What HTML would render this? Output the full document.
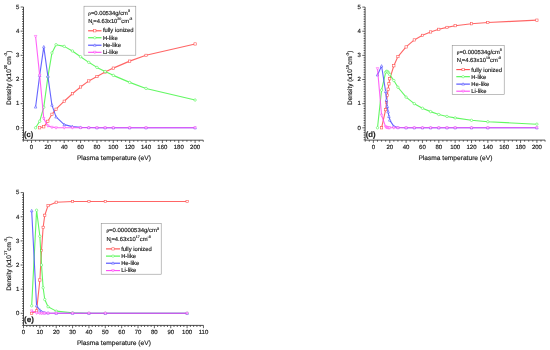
<!DOCTYPE html>
<html><head><meta charset="utf-8"><title>Density vs plasma temperature</title>
<style>
html,body{margin:0;padding:0;background:#fff;}
body{width:550px;height:350px;overflow:hidden;}
text{stroke:#1a1a1a;stroke-width:.16px;paint-order:stroke fill}
svg{display:block;filter:blur(0.3px);text-rendering:geometricPrecision;font-family:'Liberation Sans', Arial, sans-serif;fill:#1a1a1a;}
</style></head><body>
<svg width="550" height="350" viewBox="0 0 550 350">
<rect width="550" height="350" fill="#fff"/>
<path d="M23.50 7.00V140.20H203.28" fill="none" stroke="#222" stroke-width="0.8"/>
<path d="M23.50 139.88h-1.5M23.50 137.46h-1.5M23.50 135.05h-1.5M23.50 132.63h-1.5M23.50 130.22h-1.5M23.50 127.80h-2.8M23.50 125.38h-1.5M23.50 122.97h-1.5M23.50 120.55h-1.5M23.50 118.14h-1.5M23.50 115.72h-1.5M23.50 113.30h-1.5M23.50 110.89h-1.5M23.50 108.47h-1.5M23.50 106.06h-1.5M23.50 103.64h-2.8M23.50 101.22h-1.5M23.50 98.81h-1.5M23.50 96.39h-1.5M23.50 93.98h-1.5M23.50 91.56h-1.5M23.50 89.14h-1.5M23.50 86.73h-1.5M23.50 84.31h-1.5M23.50 81.90h-1.5M23.50 79.48h-2.8M23.50 77.06h-1.5M23.50 74.65h-1.5M23.50 72.23h-1.5M23.50 69.82h-1.5M23.50 67.40h-1.5M23.50 64.98h-1.5M23.50 62.57h-1.5M23.50 60.15h-1.5M23.50 57.74h-1.5M23.50 55.32h-2.8M23.50 52.90h-1.5M23.50 50.49h-1.5M23.50 48.07h-1.5M23.50 45.66h-1.5M23.50 43.24h-1.5M23.50 40.82h-1.5M23.50 38.41h-1.5M23.50 35.99h-1.5M23.50 33.58h-1.5M23.50 31.16h-2.8M23.50 28.74h-1.5M23.50 26.33h-1.5M23.50 23.91h-1.5M23.50 21.50h-1.5M23.50 19.08h-1.5M23.50 16.66h-1.5M23.50 14.25h-1.5M23.50 11.83h-1.5M23.50 9.42h-1.5M23.50 7.00h-2.8" stroke="#222" stroke-width="0.7" fill="none"/>
<path d="M23.32 140.20v1.6M27.41 140.20v1.6M31.50 140.20v2.8M35.59 140.20v1.6M39.68 140.20v1.6M43.77 140.20v1.6M47.86 140.20v2.8M51.95 140.20v1.6M56.04 140.20v1.6M60.13 140.20v1.6M64.22 140.20v2.8M68.31 140.20v1.6M72.40 140.20v1.6M76.49 140.20v1.6M80.58 140.20v2.8M84.67 140.20v1.6M88.76 140.20v1.6M92.85 140.20v1.6M96.94 140.20v2.8M101.03 140.20v1.6M105.12 140.20v1.6M109.21 140.20v1.6M113.30 140.20v2.8M117.39 140.20v1.6M121.48 140.20v1.6M125.57 140.20v1.6M129.66 140.20v2.8M133.75 140.20v1.6M137.84 140.20v1.6M141.93 140.20v1.6M146.02 140.20v2.8M150.11 140.20v1.6M154.20 140.20v1.6M158.29 140.20v1.6M162.38 140.20v2.8M166.47 140.20v1.6M170.56 140.20v1.6M174.65 140.20v1.6M178.74 140.20v2.8M182.83 140.20v1.6M186.92 140.20v1.6M191.01 140.20v1.6M195.10 140.20v2.8M199.19 140.20v1.6M203.28 140.20v1.6" stroke="#222" stroke-width="0.7" fill="none"/>
<text x="19.35" y="129.60" text-anchor="end" font-size="6.0">0</text>
<text x="19.35" y="105.44" text-anchor="end" font-size="6.0">1</text>
<text x="19.35" y="81.28" text-anchor="end" font-size="6.0">2</text>
<text x="19.35" y="57.12" text-anchor="end" font-size="6.0">3</text>
<text x="19.35" y="32.96" text-anchor="end" font-size="6.0">4</text>
<text x="19.35" y="8.80" text-anchor="end" font-size="6.0">5</text>
<text x="31.50" y="149.10" text-anchor="middle" font-size="6.0">0</text>
<text x="47.86" y="149.10" text-anchor="middle" font-size="6.0">20</text>
<text x="64.22" y="149.10" text-anchor="middle" font-size="6.0">40</text>
<text x="80.58" y="149.10" text-anchor="middle" font-size="6.0">60</text>
<text x="96.94" y="149.10" text-anchor="middle" font-size="6.0">80</text>
<text x="113.30" y="149.10" text-anchor="middle" font-size="6.0">100</text>
<text x="129.66" y="149.10" text-anchor="middle" font-size="6.0">120</text>
<text x="146.02" y="149.10" text-anchor="middle" font-size="6.0">140</text>
<text x="162.38" y="149.10" text-anchor="middle" font-size="6.0">160</text>
<text x="178.74" y="149.10" text-anchor="middle" font-size="6.0">180</text>
<text x="195.10" y="149.10" text-anchor="middle" font-size="6.0">200</text>
<text x="76.90" y="160.00" font-size="6.5" textLength="74.0" lengthAdjust="spacingAndGlyphs">Plasma temperature (eV)</text>
<text transform="translate(10.70 105.00) rotate(-90)" font-size="6.5" textLength="54.4" lengthAdjust="spacingAndGlyphs">Density (x10<tspan dy="-3.3" font-size="4">20</tspan><tspan dy="3.3">cm</tspan><tspan dy="-3.3" font-size="4">-3</tspan><tspan dy="3.3">)</tspan></text>
<text x="24.10" y="137.40" font-size="7.9" font-weight="bold" fill="#222" textLength="9.3" lengthAdjust="spacingAndGlyphs">(c)</text>
<path d="M39.68 127.80L43.77 126.83L47.86 121.28L51.95 114.27L56.04 109.20L64.22 101.22L72.40 93.73L80.58 86.97L88.76 80.93L96.94 76.58L105.12 71.99L113.30 68.12L129.66 61.12L146.02 55.32L195.10 43.96" fill="none" stroke="#ff4a4a" stroke-width="1.1" stroke-opacity="0.85" stroke-linejoin="round"/>
<rect x="38.53" y="126.65" width="2.30" height="2.30" fill="#fff" stroke="#ff4a4a" stroke-width="0.55"/>
<rect x="42.62" y="125.68" width="2.30" height="2.30" fill="#fff" stroke="#ff4a4a" stroke-width="0.55"/>
<rect x="46.71" y="120.13" width="2.30" height="2.30" fill="#fff" stroke="#ff4a4a" stroke-width="0.55"/>
<rect x="50.80" y="113.12" width="2.30" height="2.30" fill="#fff" stroke="#ff4a4a" stroke-width="0.55"/>
<rect x="54.89" y="108.05" width="2.30" height="2.30" fill="#fff" stroke="#ff4a4a" stroke-width="0.55"/>
<rect x="63.07" y="100.07" width="2.30" height="2.30" fill="#fff" stroke="#ff4a4a" stroke-width="0.55"/>
<rect x="71.25" y="92.58" width="2.30" height="2.30" fill="#fff" stroke="#ff4a4a" stroke-width="0.55"/>
<rect x="79.43" y="85.82" width="2.30" height="2.30" fill="#fff" stroke="#ff4a4a" stroke-width="0.55"/>
<rect x="87.61" y="79.78" width="2.30" height="2.30" fill="#fff" stroke="#ff4a4a" stroke-width="0.55"/>
<rect x="95.79" y="75.43" width="2.30" height="2.30" fill="#fff" stroke="#ff4a4a" stroke-width="0.55"/>
<rect x="103.97" y="70.84" width="2.30" height="2.30" fill="#fff" stroke="#ff4a4a" stroke-width="0.55"/>
<rect x="112.15" y="66.97" width="2.30" height="2.30" fill="#fff" stroke="#ff4a4a" stroke-width="0.55"/>
<rect x="128.51" y="59.97" width="2.30" height="2.30" fill="#fff" stroke="#ff4a4a" stroke-width="0.55"/>
<rect x="144.87" y="54.17" width="2.30" height="2.30" fill="#fff" stroke="#ff4a4a" stroke-width="0.55"/>
<rect x="193.95" y="42.81" width="2.30" height="2.30" fill="#fff" stroke="#ff4a4a" stroke-width="0.55"/>
<path d="M35.59 127.80L39.68 121.28L43.77 107.26L47.86 77.06L51.95 52.90L56.04 44.69L64.22 46.38L72.40 50.97L80.58 56.77L88.76 62.33L96.94 67.40L105.12 71.51L113.30 75.37L129.66 82.38L146.02 88.42L195.10 100.02" fill="none" stroke="#46f646" stroke-width="1.1" stroke-opacity="0.85" stroke-linejoin="round"/>
<circle cx="35.59" cy="127.80" r="1.21" fill="#fff" stroke="#46f646" stroke-width="0.55"/>
<circle cx="39.68" cy="121.28" r="1.21" fill="#fff" stroke="#46f646" stroke-width="0.55"/>
<circle cx="43.77" cy="107.26" r="1.21" fill="#fff" stroke="#46f646" stroke-width="0.55"/>
<circle cx="47.86" cy="77.06" r="1.21" fill="#fff" stroke="#46f646" stroke-width="0.55"/>
<circle cx="51.95" cy="52.90" r="1.21" fill="#fff" stroke="#46f646" stroke-width="0.55"/>
<circle cx="56.04" cy="44.69" r="1.21" fill="#fff" stroke="#46f646" stroke-width="0.55"/>
<circle cx="64.22" cy="46.38" r="1.21" fill="#fff" stroke="#46f646" stroke-width="0.55"/>
<circle cx="72.40" cy="50.97" r="1.21" fill="#fff" stroke="#46f646" stroke-width="0.55"/>
<circle cx="80.58" cy="56.77" r="1.21" fill="#fff" stroke="#46f646" stroke-width="0.55"/>
<circle cx="88.76" cy="62.33" r="1.21" fill="#fff" stroke="#46f646" stroke-width="0.55"/>
<circle cx="96.94" cy="67.40" r="1.21" fill="#fff" stroke="#46f646" stroke-width="0.55"/>
<circle cx="105.12" cy="71.51" r="1.21" fill="#fff" stroke="#46f646" stroke-width="0.55"/>
<circle cx="113.30" cy="75.37" r="1.21" fill="#fff" stroke="#46f646" stroke-width="0.55"/>
<circle cx="129.66" cy="82.38" r="1.21" fill="#fff" stroke="#46f646" stroke-width="0.55"/>
<circle cx="146.02" cy="88.42" r="1.21" fill="#fff" stroke="#46f646" stroke-width="0.55"/>
<circle cx="195.10" cy="100.02" r="1.21" fill="#fff" stroke="#46f646" stroke-width="0.55"/>
<path d="M35.59 107.02L39.68 75.37L43.77 46.86L47.86 76.10L51.95 105.09L56.04 116.93L64.22 124.66L72.40 126.59L80.58 127.32L88.76 127.56L96.94 127.80L105.12 127.80L113.30 127.80L129.66 127.80L146.02 127.80L195.10 127.80" fill="none" stroke="#4a4aff" stroke-width="1.1" stroke-opacity="0.85" stroke-linejoin="round"/>
<path d="M34.33 108.06L36.86 108.06L35.59 105.64Z" fill="#fff" stroke="#4a4aff" stroke-width="0.55"/>
<path d="M38.41 76.41L40.95 76.41L39.68 73.99Z" fill="#fff" stroke="#4a4aff" stroke-width="0.55"/>
<path d="M42.50 47.90L45.03 47.90L43.77 45.48Z" fill="#fff" stroke="#4a4aff" stroke-width="0.55"/>
<path d="M46.59 77.13L49.12 77.13L47.86 74.72Z" fill="#fff" stroke="#4a4aff" stroke-width="0.55"/>
<path d="M50.69 106.12L53.22 106.12L51.95 103.71Z" fill="#fff" stroke="#4a4aff" stroke-width="0.55"/>
<path d="M54.77 117.96L57.30 117.96L56.04 115.55Z" fill="#fff" stroke="#4a4aff" stroke-width="0.55"/>
<path d="M62.95 125.69L65.48 125.69L64.22 123.28Z" fill="#fff" stroke="#4a4aff" stroke-width="0.55"/>
<path d="M71.14 127.63L73.67 127.63L72.40 125.21Z" fill="#fff" stroke="#4a4aff" stroke-width="0.55"/>
<path d="M79.31 128.35L81.84 128.35L80.58 125.94Z" fill="#fff" stroke="#4a4aff" stroke-width="0.55"/>
<path d="M87.49 128.59L90.02 128.59L88.76 126.18Z" fill="#fff" stroke="#4a4aff" stroke-width="0.55"/>
<path d="M95.67 128.84L98.20 128.84L96.94 126.42Z" fill="#fff" stroke="#4a4aff" stroke-width="0.55"/>
<path d="M103.85 128.84L106.38 128.84L105.12 126.42Z" fill="#fff" stroke="#4a4aff" stroke-width="0.55"/>
<path d="M112.03 128.84L114.56 128.84L113.30 126.42Z" fill="#fff" stroke="#4a4aff" stroke-width="0.55"/>
<path d="M128.40 128.84L130.92 128.84L129.66 126.42Z" fill="#fff" stroke="#4a4aff" stroke-width="0.55"/>
<path d="M144.75 128.84L147.28 128.84L146.02 126.42Z" fill="#fff" stroke="#4a4aff" stroke-width="0.55"/>
<path d="M193.84 128.84L196.36 128.84L195.10 126.42Z" fill="#fff" stroke="#4a4aff" stroke-width="0.55"/>
<path d="M35.59 36.48L39.68 75.37L43.77 118.62L47.86 125.87L51.95 127.32L56.04 127.80L64.22 127.80L72.40 127.80L80.58 127.80L88.76 127.80L96.94 127.80L105.12 127.80L113.30 127.80L129.66 127.80L146.02 127.80L195.10 127.80" fill="none" stroke="#ff48f6" stroke-width="1.1" stroke-opacity="0.85" stroke-linejoin="round"/>
<path d="M34.33 35.44L36.86 35.44L35.59 37.86Z" fill="#fff" stroke="#ff48f6" stroke-width="0.55"/>
<path d="M38.41 74.34L40.95 74.34L39.68 76.75Z" fill="#fff" stroke="#ff48f6" stroke-width="0.55"/>
<path d="M42.50 117.58L45.03 117.58L43.77 120.00Z" fill="#fff" stroke="#ff48f6" stroke-width="0.55"/>
<path d="M46.59 124.83L49.12 124.83L47.86 127.25Z" fill="#fff" stroke="#ff48f6" stroke-width="0.55"/>
<path d="M50.69 126.28L53.22 126.28L51.95 128.70Z" fill="#fff" stroke="#ff48f6" stroke-width="0.55"/>
<path d="M54.77 126.77L57.30 126.77L56.04 129.18Z" fill="#fff" stroke="#ff48f6" stroke-width="0.55"/>
<path d="M62.95 126.77L65.48 126.77L64.22 129.18Z" fill="#fff" stroke="#ff48f6" stroke-width="0.55"/>
<path d="M71.14 126.77L73.67 126.77L72.40 129.18Z" fill="#fff" stroke="#ff48f6" stroke-width="0.55"/>
<path d="M79.31 126.77L81.84 126.77L80.58 129.18Z" fill="#fff" stroke="#ff48f6" stroke-width="0.55"/>
<path d="M87.49 126.77L90.02 126.77L88.76 129.18Z" fill="#fff" stroke="#ff48f6" stroke-width="0.55"/>
<path d="M95.67 126.77L98.20 126.77L96.94 129.18Z" fill="#fff" stroke="#ff48f6" stroke-width="0.55"/>
<path d="M103.85 126.77L106.38 126.77L105.12 129.18Z" fill="#fff" stroke="#ff48f6" stroke-width="0.55"/>
<path d="M112.03 126.77L114.56 126.77L113.30 129.18Z" fill="#fff" stroke="#ff48f6" stroke-width="0.55"/>
<path d="M128.40 126.77L130.92 126.77L129.66 129.18Z" fill="#fff" stroke="#ff48f6" stroke-width="0.55"/>
<path d="M144.75 126.77L147.28 126.77L146.02 129.18Z" fill="#fff" stroke="#ff48f6" stroke-width="0.55"/>
<path d="M193.84 126.77L196.36 126.77L195.10 129.18Z" fill="#fff" stroke="#ff48f6" stroke-width="0.55"/>
<rect x="84" y="6.2" width="51.80" height="49.00" fill="#fff" stroke="#8a8a8a" stroke-width="0.55"/>
<text x="88.3" y="15.20" font-size="5.8" textLength="41.6" lengthAdjust="spacingAndGlyphs"><tspan font-size="4.6">ρ</tspan>=0.00534g/cm<tspan dy="-2.9" font-size="3.6">3</tspan></text>
<text x="88.3" y="23.10" font-size="5.8" textLength="44.0" lengthAdjust="spacingAndGlyphs">N<tspan dy="1.6" font-size="3.6">i</tspan><tspan dy="-1.6">=4.63x10</tspan><tspan dy="-2.9" font-size="3.6">20</tspan><tspan dy="2.9">cm</tspan><tspan dy="-2.9" font-size="3.6">-3</tspan></text>
<path d="M88.1 30.80H101.5" stroke="#ff4a4a" stroke-width="1.1"/>
<rect x="93.65" y="29.65" width="2.30" height="2.30" fill="#fff" stroke="#ff4a4a" stroke-width="0.5"/>
<text x="102.9" y="32.35" font-size="5.8" textLength="30.6" lengthAdjust="spacingAndGlyphs">fully ionized</text>
<path d="M88.1 37.75H101.5" stroke="#46f646" stroke-width="1.1"/>
<circle cx="94.80" cy="37.75" r="1.21" fill="#fff" stroke="#46f646" stroke-width="0.5"/>
<text x="102.9" y="39.50" font-size="5.8">H-like</text>
<path d="M88.1 45.20H101.5" stroke="#4a4aff" stroke-width="1.1"/>
<path d="M93.53 46.23L96.06 46.23L94.80 43.82Z" fill="#fff" stroke="#4a4aff" stroke-width="0.5"/>
<text x="102.9" y="46.90" font-size="5.8">He-like</text>
<path d="M88.1 52.30H101.5" stroke="#ff48f6" stroke-width="1.1"/>
<path d="M93.53 51.27L96.06 51.27L94.80 53.68Z" fill="#fff" stroke="#ff48f6" stroke-width="0.5"/>
<text x="102.9" y="54.00" font-size="5.8">Li-like</text>
<path d="M365.10 7.10V140.10H545.08" fill="none" stroke="#222" stroke-width="0.8"/>
<path d="M365.10 139.87h-1.5M365.10 137.46h-1.5M365.10 135.04h-1.5M365.10 132.63h-1.5M365.10 130.21h-1.5M365.10 127.80h-2.8M365.10 125.39h-1.5M365.10 122.97h-1.5M365.10 120.56h-1.5M365.10 118.14h-1.5M365.10 115.73h-1.5M365.10 113.32h-1.5M365.10 110.90h-1.5M365.10 108.49h-1.5M365.10 106.07h-1.5M365.10 103.66h-2.8M365.10 101.25h-1.5M365.10 98.83h-1.5M365.10 96.42h-1.5M365.10 94.00h-1.5M365.10 91.59h-1.5M365.10 89.18h-1.5M365.10 86.76h-1.5M365.10 84.35h-1.5M365.10 81.93h-1.5M365.10 79.52h-2.8M365.10 77.11h-1.5M365.10 74.69h-1.5M365.10 72.28h-1.5M365.10 69.86h-1.5M365.10 67.45h-1.5M365.10 65.04h-1.5M365.10 62.62h-1.5M365.10 60.21h-1.5M365.10 57.79h-1.5M365.10 55.38h-2.8M365.10 52.97h-1.5M365.10 50.55h-1.5M365.10 48.14h-1.5M365.10 45.72h-1.5M365.10 43.31h-1.5M365.10 40.90h-1.5M365.10 38.48h-1.5M365.10 36.07h-1.5M365.10 33.65h-1.5M365.10 31.24h-2.8M365.10 28.83h-1.5M365.10 26.41h-1.5M365.10 24.00h-1.5M365.10 21.58h-1.5M365.10 19.17h-1.5M365.10 16.76h-1.5M365.10 14.34h-1.5M365.10 11.93h-1.5M365.10 9.51h-1.5M365.10 7.10h-2.8" stroke="#222" stroke-width="0.7" fill="none"/>
<path d="M365.22 140.10v1.6M369.31 140.10v1.6M373.40 140.10v2.8M377.49 140.10v1.6M381.57 140.10v1.6M385.66 140.10v1.6M389.75 140.10v2.8M393.84 140.10v1.6M397.92 140.10v1.6M402.01 140.10v1.6M406.10 140.10v2.8M410.19 140.10v1.6M414.27 140.10v1.6M418.36 140.10v1.6M422.45 140.10v2.8M426.54 140.10v1.6M430.62 140.10v1.6M434.71 140.10v1.6M438.80 140.10v2.8M442.89 140.10v1.6M446.97 140.10v1.6M451.06 140.10v1.6M455.15 140.10v2.8M459.24 140.10v1.6M463.32 140.10v1.6M467.41 140.10v1.6M471.50 140.10v2.8M475.59 140.10v1.6M479.67 140.10v1.6M483.76 140.10v1.6M487.85 140.10v2.8M491.94 140.10v1.6M496.02 140.10v1.6M500.11 140.10v1.6M504.20 140.10v2.8M508.29 140.10v1.6M512.38 140.10v1.6M516.46 140.10v1.6M520.55 140.10v2.8M524.64 140.10v1.6M528.72 140.10v1.6M532.81 140.10v1.6M536.90 140.10v2.8M540.99 140.10v1.6M545.08 140.10v1.6" stroke="#222" stroke-width="0.7" fill="none"/>
<text x="360.95" y="129.60" text-anchor="end" font-size="6.0">0</text>
<text x="360.95" y="105.46" text-anchor="end" font-size="6.0">1</text>
<text x="360.95" y="81.32" text-anchor="end" font-size="6.0">2</text>
<text x="360.95" y="57.18" text-anchor="end" font-size="6.0">3</text>
<text x="360.95" y="33.04" text-anchor="end" font-size="6.0">4</text>
<text x="360.95" y="8.90" text-anchor="end" font-size="6.0">5</text>
<text x="373.40" y="149.00" text-anchor="middle" font-size="6.0">0</text>
<text x="389.75" y="149.00" text-anchor="middle" font-size="6.0">20</text>
<text x="406.10" y="149.00" text-anchor="middle" font-size="6.0">40</text>
<text x="422.45" y="149.00" text-anchor="middle" font-size="6.0">60</text>
<text x="438.80" y="149.00" text-anchor="middle" font-size="6.0">80</text>
<text x="455.15" y="149.00" text-anchor="middle" font-size="6.0">100</text>
<text x="471.50" y="149.00" text-anchor="middle" font-size="6.0">120</text>
<text x="487.85" y="149.00" text-anchor="middle" font-size="6.0">140</text>
<text x="504.20" y="149.00" text-anchor="middle" font-size="6.0">160</text>
<text x="520.55" y="149.00" text-anchor="middle" font-size="6.0">180</text>
<text x="536.90" y="149.00" text-anchor="middle" font-size="6.0">200</text>
<text x="418.40" y="160.00" font-size="6.5" textLength="74.0" lengthAdjust="spacingAndGlyphs">Plasma temperature (eV)</text>
<text transform="translate(352.20 105.00) rotate(-90)" font-size="6.5" textLength="54.4" lengthAdjust="spacingAndGlyphs">Density (x10<tspan dy="-3.3" font-size="4">19</tspan><tspan dy="3.3">cm</tspan><tspan dy="-3.3" font-size="4">-3</tspan><tspan dy="3.3">)</tspan></text>
<text x="365.70" y="137.30" font-size="7.9" font-weight="bold" fill="#222" textLength="9.9" lengthAdjust="spacingAndGlyphs">(d)</text>
<path d="M381.57 127.80L385.66 109.69L386.48 102.45L387.30 95.21L388.11 89.18L388.93 83.87L389.75 78.80L393.84 65.76L397.92 56.59L406.10 46.93L414.27 39.93L422.45 35.34L430.62 31.96L438.80 29.31L446.97 27.38L455.15 25.69L471.50 23.76L487.85 22.55L536.90 20.14" fill="none" stroke="#ff4a4a" stroke-width="1.1" stroke-opacity="0.85" stroke-linejoin="round"/>
<rect x="380.43" y="126.65" width="2.30" height="2.30" fill="#fff" stroke="#ff4a4a" stroke-width="0.55"/>
<rect x="384.51" y="108.54" width="2.30" height="2.30" fill="#fff" stroke="#ff4a4a" stroke-width="0.55"/>
<rect x="385.33" y="101.30" width="2.30" height="2.30" fill="#fff" stroke="#ff4a4a" stroke-width="0.55"/>
<rect x="386.15" y="94.06" width="2.30" height="2.30" fill="#fff" stroke="#ff4a4a" stroke-width="0.55"/>
<rect x="386.96" y="88.03" width="2.30" height="2.30" fill="#fff" stroke="#ff4a4a" stroke-width="0.55"/>
<rect x="387.78" y="82.72" width="2.30" height="2.30" fill="#fff" stroke="#ff4a4a" stroke-width="0.55"/>
<rect x="388.60" y="77.65" width="2.30" height="2.30" fill="#fff" stroke="#ff4a4a" stroke-width="0.55"/>
<rect x="392.69" y="64.61" width="2.30" height="2.30" fill="#fff" stroke="#ff4a4a" stroke-width="0.55"/>
<rect x="396.77" y="55.44" width="2.30" height="2.30" fill="#fff" stroke="#ff4a4a" stroke-width="0.55"/>
<rect x="404.95" y="45.78" width="2.30" height="2.30" fill="#fff" stroke="#ff4a4a" stroke-width="0.55"/>
<rect x="413.12" y="38.78" width="2.30" height="2.30" fill="#fff" stroke="#ff4a4a" stroke-width="0.55"/>
<rect x="421.30" y="34.19" width="2.30" height="2.30" fill="#fff" stroke="#ff4a4a" stroke-width="0.55"/>
<rect x="429.48" y="30.81" width="2.30" height="2.30" fill="#fff" stroke="#ff4a4a" stroke-width="0.55"/>
<rect x="437.65" y="28.16" width="2.30" height="2.30" fill="#fff" stroke="#ff4a4a" stroke-width="0.55"/>
<rect x="445.82" y="26.23" width="2.30" height="2.30" fill="#fff" stroke="#ff4a4a" stroke-width="0.55"/>
<rect x="454.00" y="24.54" width="2.30" height="2.30" fill="#fff" stroke="#ff4a4a" stroke-width="0.55"/>
<rect x="470.35" y="22.61" width="2.30" height="2.30" fill="#fff" stroke="#ff4a4a" stroke-width="0.55"/>
<rect x="486.70" y="21.40" width="2.30" height="2.30" fill="#fff" stroke="#ff4a4a" stroke-width="0.55"/>
<rect x="535.75" y="18.99" width="2.30" height="2.30" fill="#fff" stroke="#ff4a4a" stroke-width="0.55"/>
<path d="M377.49 127.80L381.57 90.14L385.66 72.28L386.48 71.31L387.30 71.55L388.11 72.28L388.93 73.24L389.75 74.69L393.84 80.49L397.92 87.24L406.10 97.14L414.27 103.66L422.45 108.25L430.62 111.63L438.80 114.52L446.97 116.45L455.15 117.90L471.50 120.32L487.85 121.77L536.90 124.18" fill="none" stroke="#46f646" stroke-width="1.1" stroke-opacity="0.85" stroke-linejoin="round"/>
<circle cx="377.49" cy="127.80" r="1.21" fill="#fff" stroke="#46f646" stroke-width="0.55"/>
<circle cx="381.57" cy="90.14" r="1.21" fill="#fff" stroke="#46f646" stroke-width="0.55"/>
<circle cx="385.66" cy="72.28" r="1.21" fill="#fff" stroke="#46f646" stroke-width="0.55"/>
<circle cx="386.48" cy="71.31" r="1.21" fill="#fff" stroke="#46f646" stroke-width="0.55"/>
<circle cx="387.30" cy="71.55" r="1.21" fill="#fff" stroke="#46f646" stroke-width="0.55"/>
<circle cx="388.11" cy="72.28" r="1.21" fill="#fff" stroke="#46f646" stroke-width="0.55"/>
<circle cx="388.93" cy="73.24" r="1.21" fill="#fff" stroke="#46f646" stroke-width="0.55"/>
<circle cx="389.75" cy="74.69" r="1.21" fill="#fff" stroke="#46f646" stroke-width="0.55"/>
<circle cx="393.84" cy="80.49" r="1.21" fill="#fff" stroke="#46f646" stroke-width="0.55"/>
<circle cx="397.92" cy="87.24" r="1.21" fill="#fff" stroke="#46f646" stroke-width="0.55"/>
<circle cx="406.10" cy="97.14" r="1.21" fill="#fff" stroke="#46f646" stroke-width="0.55"/>
<circle cx="414.27" cy="103.66" r="1.21" fill="#fff" stroke="#46f646" stroke-width="0.55"/>
<circle cx="422.45" cy="108.25" r="1.21" fill="#fff" stroke="#46f646" stroke-width="0.55"/>
<circle cx="430.62" cy="111.63" r="1.21" fill="#fff" stroke="#46f646" stroke-width="0.55"/>
<circle cx="438.80" cy="114.52" r="1.21" fill="#fff" stroke="#46f646" stroke-width="0.55"/>
<circle cx="446.97" cy="116.45" r="1.21" fill="#fff" stroke="#46f646" stroke-width="0.55"/>
<circle cx="455.15" cy="117.90" r="1.21" fill="#fff" stroke="#46f646" stroke-width="0.55"/>
<circle cx="471.50" cy="120.32" r="1.21" fill="#fff" stroke="#46f646" stroke-width="0.55"/>
<circle cx="487.85" cy="121.77" r="1.21" fill="#fff" stroke="#46f646" stroke-width="0.55"/>
<circle cx="536.90" cy="124.18" r="1.21" fill="#fff" stroke="#46f646" stroke-width="0.55"/>
<path d="M377.49 74.93L381.57 66.00L385.66 91.59L386.48 100.04L387.30 106.56L388.11 111.87L388.93 116.45L389.75 120.08L393.84 126.35L397.92 127.56L406.10 127.80L414.27 127.80L422.45 127.80L430.62 127.80L438.80 127.80L446.97 127.80L455.15 127.80L471.50 127.80L487.85 127.80L536.90 127.80" fill="none" stroke="#4a4aff" stroke-width="1.1" stroke-opacity="0.85" stroke-linejoin="round"/>
<path d="M376.22 75.97L378.75 75.97L377.49 73.55Z" fill="#fff" stroke="#4a4aff" stroke-width="0.55"/>
<path d="M380.31 67.04L382.84 67.04L381.57 64.62Z" fill="#fff" stroke="#4a4aff" stroke-width="0.55"/>
<path d="M384.40 92.62L386.93 92.62L385.66 90.21Z" fill="#fff" stroke="#4a4aff" stroke-width="0.55"/>
<path d="M385.21 101.07L387.74 101.07L386.48 98.66Z" fill="#fff" stroke="#4a4aff" stroke-width="0.55"/>
<path d="M386.03 107.59L388.56 107.59L387.30 105.18Z" fill="#fff" stroke="#4a4aff" stroke-width="0.55"/>
<path d="M386.85 112.90L389.38 112.90L388.11 110.49Z" fill="#fff" stroke="#4a4aff" stroke-width="0.55"/>
<path d="M387.67 117.49L390.20 117.49L388.93 115.07Z" fill="#fff" stroke="#4a4aff" stroke-width="0.55"/>
<path d="M388.49 121.11L391.01 121.11L389.75 118.70Z" fill="#fff" stroke="#4a4aff" stroke-width="0.55"/>
<path d="M392.57 127.39L395.10 127.39L393.84 124.97Z" fill="#fff" stroke="#4a4aff" stroke-width="0.55"/>
<path d="M396.66 128.59L399.19 128.59L397.92 126.18Z" fill="#fff" stroke="#4a4aff" stroke-width="0.55"/>
<path d="M404.83 128.84L407.36 128.84L406.10 126.42Z" fill="#fff" stroke="#4a4aff" stroke-width="0.55"/>
<path d="M413.01 128.84L415.54 128.84L414.27 126.42Z" fill="#fff" stroke="#4a4aff" stroke-width="0.55"/>
<path d="M421.19 128.84L423.71 128.84L422.45 126.42Z" fill="#fff" stroke="#4a4aff" stroke-width="0.55"/>
<path d="M429.36 128.84L431.89 128.84L430.62 126.42Z" fill="#fff" stroke="#4a4aff" stroke-width="0.55"/>
<path d="M437.53 128.84L440.06 128.84L438.80 126.42Z" fill="#fff" stroke="#4a4aff" stroke-width="0.55"/>
<path d="M445.71 128.84L448.24 128.84L446.97 126.42Z" fill="#fff" stroke="#4a4aff" stroke-width="0.55"/>
<path d="M453.88 128.84L456.41 128.84L455.15 126.42Z" fill="#fff" stroke="#4a4aff" stroke-width="0.55"/>
<path d="M470.24 128.84L472.76 128.84L471.50 126.42Z" fill="#fff" stroke="#4a4aff" stroke-width="0.55"/>
<path d="M486.58 128.84L489.11 128.84L487.85 126.42Z" fill="#fff" stroke="#4a4aff" stroke-width="0.55"/>
<path d="M535.63 128.84L538.16 128.84L536.90 126.42Z" fill="#fff" stroke="#4a4aff" stroke-width="0.55"/>
<path d="M377.49 68.66L381.57 115.25L385.66 126.83L386.48 127.32L387.30 127.56L388.11 127.80L388.93 127.80L389.75 127.80L393.84 127.80L397.92 127.80L406.10 127.80L414.27 127.80L422.45 127.80L430.62 127.80L438.80 127.80L446.97 127.80L455.15 127.80L471.50 127.80L487.85 127.80L536.90 127.80" fill="none" stroke="#ff48f6" stroke-width="1.1" stroke-opacity="0.85" stroke-linejoin="round"/>
<path d="M376.22 67.62L378.75 67.62L377.49 70.04Z" fill="#fff" stroke="#ff48f6" stroke-width="0.55"/>
<path d="M380.31 114.21L382.84 114.21L381.57 116.63Z" fill="#fff" stroke="#ff48f6" stroke-width="0.55"/>
<path d="M384.40 125.80L386.93 125.80L385.66 128.21Z" fill="#fff" stroke="#ff48f6" stroke-width="0.55"/>
<path d="M385.21 126.28L387.74 126.28L386.48 128.70Z" fill="#fff" stroke="#ff48f6" stroke-width="0.55"/>
<path d="M386.03 126.52L388.56 126.52L387.30 128.94Z" fill="#fff" stroke="#ff48f6" stroke-width="0.55"/>
<path d="M386.85 126.77L389.38 126.77L388.11 129.18Z" fill="#fff" stroke="#ff48f6" stroke-width="0.55"/>
<path d="M387.67 126.77L390.20 126.77L388.93 129.18Z" fill="#fff" stroke="#ff48f6" stroke-width="0.55"/>
<path d="M388.49 126.77L391.01 126.77L389.75 129.18Z" fill="#fff" stroke="#ff48f6" stroke-width="0.55"/>
<path d="M392.57 126.77L395.10 126.77L393.84 129.18Z" fill="#fff" stroke="#ff48f6" stroke-width="0.55"/>
<path d="M396.66 126.77L399.19 126.77L397.92 129.18Z" fill="#fff" stroke="#ff48f6" stroke-width="0.55"/>
<path d="M404.83 126.77L407.36 126.77L406.10 129.18Z" fill="#fff" stroke="#ff48f6" stroke-width="0.55"/>
<path d="M413.01 126.77L415.54 126.77L414.27 129.18Z" fill="#fff" stroke="#ff48f6" stroke-width="0.55"/>
<path d="M421.19 126.77L423.71 126.77L422.45 129.18Z" fill="#fff" stroke="#ff48f6" stroke-width="0.55"/>
<path d="M429.36 126.77L431.89 126.77L430.62 129.18Z" fill="#fff" stroke="#ff48f6" stroke-width="0.55"/>
<path d="M437.53 126.77L440.06 126.77L438.80 129.18Z" fill="#fff" stroke="#ff48f6" stroke-width="0.55"/>
<path d="M445.71 126.77L448.24 126.77L446.97 129.18Z" fill="#fff" stroke="#ff48f6" stroke-width="0.55"/>
<path d="M453.88 126.77L456.41 126.77L455.15 129.18Z" fill="#fff" stroke="#ff48f6" stroke-width="0.55"/>
<path d="M470.24 126.77L472.76 126.77L471.50 129.18Z" fill="#fff" stroke="#ff48f6" stroke-width="0.55"/>
<path d="M486.58 126.77L489.11 126.77L487.85 129.18Z" fill="#fff" stroke="#ff48f6" stroke-width="0.55"/>
<path d="M535.63 126.77L538.16 126.77L536.90 129.18Z" fill="#fff" stroke="#ff48f6" stroke-width="0.55"/>
<rect x="452.2" y="45.6" width="52.00" height="48.90" fill="#fff" stroke="#8a8a8a" stroke-width="0.55"/>
<text x="456.8" y="54.00" font-size="5.8" textLength="45.0" lengthAdjust="spacingAndGlyphs"><tspan font-size="4.6">ρ</tspan>=0.000534g/cm<tspan dy="-2.9" font-size="3.6">3</tspan></text>
<text x="456.8" y="62.20" font-size="5.8" textLength="44.2" lengthAdjust="spacingAndGlyphs">N<tspan dy="1.6" font-size="3.6">i</tspan><tspan dy="-1.6">=4.63x10</tspan><tspan dy="-2.9" font-size="3.6">19</tspan><tspan dy="2.9">cm</tspan><tspan dy="-2.9" font-size="3.6">-3</tspan></text>
<path d="M456.3 69.60H469.9" stroke="#ff4a4a" stroke-width="1.1"/>
<rect x="461.95" y="68.45" width="2.30" height="2.30" fill="#fff" stroke="#ff4a4a" stroke-width="0.5"/>
<text x="471.3" y="71.50" font-size="5.8" textLength="30.6" lengthAdjust="spacingAndGlyphs">fully ionized</text>
<path d="M456.3 76.70H469.9" stroke="#46f646" stroke-width="1.1"/>
<circle cx="463.10" cy="76.70" r="1.21" fill="#fff" stroke="#46f646" stroke-width="0.5"/>
<text x="471.3" y="78.60" font-size="5.8">H-like</text>
<path d="M456.3 84.10H469.9" stroke="#4a4aff" stroke-width="1.1"/>
<path d="M461.84 85.13L464.37 85.13L463.10 82.72Z" fill="#fff" stroke="#4a4aff" stroke-width="0.5"/>
<text x="471.3" y="85.80" font-size="5.8">He-like</text>
<path d="M456.3 91.20H469.9" stroke="#ff48f6" stroke-width="1.1"/>
<path d="M461.84 90.17L464.37 90.17L463.10 92.58Z" fill="#fff" stroke="#ff48f6" stroke-width="0.5"/>
<text x="471.3" y="92.90" font-size="5.8">Li-like</text>
<path d="M23.50 192.60V325.40H203.46" fill="none" stroke="#222" stroke-width="0.8"/>
<path d="M23.50 325.37h-1.5M23.50 322.96h-1.5M23.50 320.54h-1.5M23.50 318.13h-1.5M23.50 315.71h-1.5M23.50 313.30h-2.8M23.50 310.89h-1.5M23.50 308.47h-1.5M23.50 306.06h-1.5M23.50 303.64h-1.5M23.50 301.23h-1.5M23.50 298.82h-1.5M23.50 296.40h-1.5M23.50 293.99h-1.5M23.50 291.57h-1.5M23.50 289.16h-2.8M23.50 286.75h-1.5M23.50 284.33h-1.5M23.50 281.92h-1.5M23.50 279.50h-1.5M23.50 277.09h-1.5M23.50 274.68h-1.5M23.50 272.26h-1.5M23.50 269.85h-1.5M23.50 267.43h-1.5M23.50 265.02h-2.8M23.50 262.61h-1.5M23.50 260.19h-1.5M23.50 257.78h-1.5M23.50 255.36h-1.5M23.50 252.95h-1.5M23.50 250.54h-1.5M23.50 248.12h-1.5M23.50 245.71h-1.5M23.50 243.29h-1.5M23.50 240.88h-2.8M23.50 238.47h-1.5M23.50 236.05h-1.5M23.50 233.64h-1.5M23.50 231.22h-1.5M23.50 228.81h-1.5M23.50 226.40h-1.5M23.50 223.98h-1.5M23.50 221.57h-1.5M23.50 219.15h-1.5M23.50 216.74h-2.8M23.50 214.33h-1.5M23.50 211.91h-1.5M23.50 209.50h-1.5M23.50 207.08h-1.5M23.50 204.67h-1.5M23.50 202.26h-1.5M23.50 199.84h-1.5M23.50 197.43h-1.5M23.50 195.01h-1.5M23.50 192.60h-2.8" stroke="#222" stroke-width="0.7" fill="none"/>
<path d="M23.50 325.40v2.8M26.77 325.40v1.6M30.04 325.40v1.6M33.32 325.40v1.6M36.59 325.40v1.6M39.86 325.40v2.8M43.13 325.40v1.6M46.40 325.40v1.6M49.68 325.40v1.6M52.95 325.40v1.6M56.22 325.40v2.8M59.49 325.40v1.6M62.76 325.40v1.6M66.04 325.40v1.6M69.31 325.40v1.6M72.58 325.40v2.8M75.85 325.40v1.6M79.12 325.40v1.6M82.40 325.40v1.6M85.67 325.40v1.6M88.94 325.40v2.8M92.21 325.40v1.6M95.48 325.40v1.6M98.76 325.40v1.6M102.03 325.40v1.6M105.30 325.40v2.8M108.57 325.40v1.6M111.84 325.40v1.6M115.12 325.40v1.6M118.39 325.40v1.6M121.66 325.40v2.8M124.93 325.40v1.6M128.20 325.40v1.6M131.48 325.40v1.6M134.75 325.40v1.6M138.02 325.40v2.8M141.29 325.40v1.6M144.56 325.40v1.6M147.84 325.40v1.6M151.11 325.40v1.6M154.38 325.40v2.8M157.65 325.40v1.6M160.92 325.40v1.6M164.20 325.40v1.6M167.47 325.40v1.6M170.74 325.40v2.8M174.01 325.40v1.6M177.28 325.40v1.6M180.56 325.40v1.6M183.83 325.40v1.6M187.10 325.40v2.8M190.37 325.40v1.6M193.64 325.40v1.6M196.92 325.40v1.6M200.19 325.40v1.6M203.46 325.40v2.8" stroke="#222" stroke-width="0.7" fill="none"/>
<text x="19.35" y="315.10" text-anchor="end" font-size="6.0">0</text>
<text x="19.35" y="290.96" text-anchor="end" font-size="6.0">1</text>
<text x="19.35" y="266.82" text-anchor="end" font-size="6.0">2</text>
<text x="19.35" y="242.68" text-anchor="end" font-size="6.0">3</text>
<text x="19.35" y="218.54" text-anchor="end" font-size="6.0">4</text>
<text x="19.35" y="194.40" text-anchor="end" font-size="6.0">5</text>
<text x="23.50" y="334.20" text-anchor="middle" font-size="6.0">0</text>
<text x="39.86" y="334.20" text-anchor="middle" font-size="6.0">10</text>
<text x="56.22" y="334.20" text-anchor="middle" font-size="6.0">20</text>
<text x="72.58" y="334.20" text-anchor="middle" font-size="6.0">30</text>
<text x="88.94" y="334.20" text-anchor="middle" font-size="6.0">40</text>
<text x="105.30" y="334.20" text-anchor="middle" font-size="6.0">50</text>
<text x="121.66" y="334.20" text-anchor="middle" font-size="6.0">60</text>
<text x="138.02" y="334.20" text-anchor="middle" font-size="6.0">70</text>
<text x="154.38" y="334.20" text-anchor="middle" font-size="6.0">80</text>
<text x="170.74" y="334.20" text-anchor="middle" font-size="6.0">90</text>
<text x="187.10" y="334.20" text-anchor="middle" font-size="6.0">100</text>
<text x="203.46" y="334.20" text-anchor="middle" font-size="6.0">110</text>
<text x="76.90" y="345.00" font-size="6.5" textLength="74.0" lengthAdjust="spacingAndGlyphs">Plasma temperature (eV)</text>
<text transform="translate(10.70 290.80) rotate(-90)" font-size="6.5" textLength="54.4" lengthAdjust="spacingAndGlyphs">Density (x10<tspan dy="-3.3" font-size="4">17</tspan><tspan dy="3.3">cm</tspan><tspan dy="-3.3" font-size="4">-3</tspan><tspan dy="3.3">)</tspan></text>
<text x="24.10" y="321.70" font-size="7.9" font-weight="bold" fill="#222" textLength="9.9" lengthAdjust="spacingAndGlyphs">(e)</text>
<path d="M31.68 313.30L36.59 310.89L39.86 279.99L41.50 250.54L43.13 227.36L44.77 215.29L48.04 205.64L56.22 202.26L72.58 201.53L88.94 201.53L105.30 201.53L187.10 201.53" fill="none" stroke="#ff4a4a" stroke-width="1.1" stroke-opacity="0.85" stroke-linejoin="round"/>
<rect x="30.53" y="312.15" width="2.30" height="2.30" fill="#fff" stroke="#ff4a4a" stroke-width="0.55"/>
<rect x="35.44" y="309.74" width="2.30" height="2.30" fill="#fff" stroke="#ff4a4a" stroke-width="0.55"/>
<rect x="38.71" y="278.84" width="2.30" height="2.30" fill="#fff" stroke="#ff4a4a" stroke-width="0.55"/>
<rect x="40.35" y="249.39" width="2.30" height="2.30" fill="#fff" stroke="#ff4a4a" stroke-width="0.55"/>
<rect x="41.98" y="226.21" width="2.30" height="2.30" fill="#fff" stroke="#ff4a4a" stroke-width="0.55"/>
<rect x="43.62" y="214.14" width="2.30" height="2.30" fill="#fff" stroke="#ff4a4a" stroke-width="0.55"/>
<rect x="46.89" y="204.49" width="2.30" height="2.30" fill="#fff" stroke="#ff4a4a" stroke-width="0.55"/>
<rect x="55.07" y="201.11" width="2.30" height="2.30" fill="#fff" stroke="#ff4a4a" stroke-width="0.55"/>
<rect x="71.43" y="200.38" width="2.30" height="2.30" fill="#fff" stroke="#ff4a4a" stroke-width="0.55"/>
<rect x="87.79" y="200.38" width="2.30" height="2.30" fill="#fff" stroke="#ff4a4a" stroke-width="0.55"/>
<rect x="104.15" y="200.38" width="2.30" height="2.30" fill="#fff" stroke="#ff4a4a" stroke-width="0.55"/>
<rect x="185.95" y="200.38" width="2.30" height="2.30" fill="#fff" stroke="#ff4a4a" stroke-width="0.55"/>
<path d="M31.68 305.82L36.59 210.22L39.86 236.29L41.50 265.02L43.13 287.71L44.77 299.54L48.04 306.78L56.22 311.13L72.58 312.82L88.94 313.30L105.30 313.30L187.10 313.30" fill="none" stroke="#46f646" stroke-width="1.1" stroke-opacity="0.85" stroke-linejoin="round"/>
<circle cx="31.68" cy="305.82" r="1.21" fill="#fff" stroke="#46f646" stroke-width="0.55"/>
<circle cx="36.59" cy="210.22" r="1.21" fill="#fff" stroke="#46f646" stroke-width="0.55"/>
<circle cx="39.86" cy="236.29" r="1.21" fill="#fff" stroke="#46f646" stroke-width="0.55"/>
<circle cx="41.50" cy="265.02" r="1.21" fill="#fff" stroke="#46f646" stroke-width="0.55"/>
<circle cx="43.13" cy="287.71" r="1.21" fill="#fff" stroke="#46f646" stroke-width="0.55"/>
<circle cx="44.77" cy="299.54" r="1.21" fill="#fff" stroke="#46f646" stroke-width="0.55"/>
<circle cx="48.04" cy="306.78" r="1.21" fill="#fff" stroke="#46f646" stroke-width="0.55"/>
<circle cx="56.22" cy="311.13" r="1.21" fill="#fff" stroke="#46f646" stroke-width="0.55"/>
<circle cx="72.58" cy="312.82" r="1.21" fill="#fff" stroke="#46f646" stroke-width="0.55"/>
<circle cx="88.94" cy="313.30" r="1.21" fill="#fff" stroke="#46f646" stroke-width="0.55"/>
<circle cx="105.30" cy="313.30" r="1.21" fill="#fff" stroke="#46f646" stroke-width="0.55"/>
<circle cx="187.10" cy="313.30" r="1.21" fill="#fff" stroke="#46f646" stroke-width="0.55"/>
<path d="M31.68 210.71L36.59 305.82L39.86 310.16L41.50 311.61L43.13 312.58L44.77 312.82L48.04 313.06L56.22 313.30L72.58 313.30L88.94 313.30L105.30 313.30L187.10 313.30" fill="none" stroke="#4a4aff" stroke-width="1.1" stroke-opacity="0.85" stroke-linejoin="round"/>
<path d="M30.41 211.74L32.95 211.74L31.68 209.33Z" fill="#fff" stroke="#4a4aff" stroke-width="0.55"/>
<path d="M35.32 306.85L37.85 306.85L36.59 304.44Z" fill="#fff" stroke="#4a4aff" stroke-width="0.55"/>
<path d="M38.59 311.20L41.12 311.20L39.86 308.78Z" fill="#fff" stroke="#4a4aff" stroke-width="0.55"/>
<path d="M40.23 312.65L42.76 312.65L41.50 310.23Z" fill="#fff" stroke="#4a4aff" stroke-width="0.55"/>
<path d="M41.87 313.61L44.40 313.61L43.13 311.20Z" fill="#fff" stroke="#4a4aff" stroke-width="0.55"/>
<path d="M43.50 313.85L46.03 313.85L44.77 311.44Z" fill="#fff" stroke="#4a4aff" stroke-width="0.55"/>
<path d="M46.77 314.09L49.30 314.09L48.04 311.68Z" fill="#fff" stroke="#4a4aff" stroke-width="0.55"/>
<path d="M54.95 314.34L57.48 314.34L56.22 311.92Z" fill="#fff" stroke="#4a4aff" stroke-width="0.55"/>
<path d="M71.31 314.34L73.84 314.34L72.58 311.92Z" fill="#fff" stroke="#4a4aff" stroke-width="0.55"/>
<path d="M87.67 314.34L90.20 314.34L88.94 311.92Z" fill="#fff" stroke="#4a4aff" stroke-width="0.55"/>
<path d="M104.03 314.34L106.56 314.34L105.30 311.92Z" fill="#fff" stroke="#4a4aff" stroke-width="0.55"/>
<path d="M185.84 314.34L188.36 314.34L187.10 311.92Z" fill="#fff" stroke="#4a4aff" stroke-width="0.55"/>
<path d="M31.68 310.89L36.59 313.06L39.86 313.30L41.50 313.30L43.13 313.30L44.77 313.30L48.04 313.30L56.22 313.30L72.58 313.30L88.94 313.30L105.30 313.30L187.10 313.30" fill="none" stroke="#ff48f6" stroke-width="1.1" stroke-opacity="0.85" stroke-linejoin="round"/>
<path d="M30.41 309.85L32.95 309.85L31.68 312.27Z" fill="#fff" stroke="#ff48f6" stroke-width="0.55"/>
<path d="M35.32 312.02L37.85 312.02L36.59 314.44Z" fill="#fff" stroke="#ff48f6" stroke-width="0.55"/>
<path d="M38.59 312.26L41.12 312.26L39.86 314.68Z" fill="#fff" stroke="#ff48f6" stroke-width="0.55"/>
<path d="M40.23 312.26L42.76 312.26L41.50 314.68Z" fill="#fff" stroke="#ff48f6" stroke-width="0.55"/>
<path d="M41.87 312.26L44.40 312.26L43.13 314.68Z" fill="#fff" stroke="#ff48f6" stroke-width="0.55"/>
<path d="M43.50 312.26L46.03 312.26L44.77 314.68Z" fill="#fff" stroke="#ff48f6" stroke-width="0.55"/>
<path d="M46.77 312.26L49.30 312.26L48.04 314.68Z" fill="#fff" stroke="#ff48f6" stroke-width="0.55"/>
<path d="M54.95 312.26L57.48 312.26L56.22 314.68Z" fill="#fff" stroke="#ff48f6" stroke-width="0.55"/>
<path d="M71.31 312.26L73.84 312.26L72.58 314.68Z" fill="#fff" stroke="#ff48f6" stroke-width="0.55"/>
<path d="M87.67 312.26L90.20 312.26L88.94 314.68Z" fill="#fff" stroke="#ff48f6" stroke-width="0.55"/>
<path d="M104.03 312.26L106.56 312.26L105.30 314.68Z" fill="#fff" stroke="#ff48f6" stroke-width="0.55"/>
<path d="M185.84 312.26L188.36 312.26L187.10 314.68Z" fill="#fff" stroke="#ff48f6" stroke-width="0.55"/>
<rect x="101.2" y="223.3" width="60.00" height="50.90" fill="#fff" stroke="#8a8a8a" stroke-width="0.55"/>
<text x="106.4" y="232.40" font-size="5.8" textLength="52.6" lengthAdjust="spacingAndGlyphs"><tspan font-size="4.6">ρ</tspan>=0.00000534g/cm<tspan dy="-2.9" font-size="3.6">3</tspan></text>
<text x="106.4" y="241.10" font-size="5.8" textLength="44.4" lengthAdjust="spacingAndGlyphs">N<tspan dy="1.6" font-size="3.6">i</tspan><tspan dy="-1.6">=4.63x10</tspan><tspan dy="-2.9" font-size="3.6">17</tspan><tspan dy="2.9">cm</tspan><tspan dy="-2.9" font-size="3.6">-3</tspan></text>
<path d="M106 248.90H120" stroke="#ff4a4a" stroke-width="1.1"/>
<rect x="111.85" y="247.75" width="2.30" height="2.30" fill="#fff" stroke="#ff4a4a" stroke-width="0.5"/>
<text x="121.2" y="250.65" font-size="5.8" textLength="30.6" lengthAdjust="spacingAndGlyphs">fully ionized</text>
<path d="M106 256.10H120" stroke="#46f646" stroke-width="1.1"/>
<circle cx="113.00" cy="256.10" r="1.21" fill="#fff" stroke="#46f646" stroke-width="0.5"/>
<text x="121.2" y="257.80" font-size="5.8">H-like</text>
<path d="M106 263.20H120" stroke="#4a4aff" stroke-width="1.1"/>
<path d="M111.73 264.24L114.27 264.24L113.00 261.82Z" fill="#fff" stroke="#4a4aff" stroke-width="0.5"/>
<text x="121.2" y="265.10" font-size="5.8">He-like</text>
<path d="M106 270.60H120" stroke="#ff48f6" stroke-width="1.1"/>
<path d="M111.73 269.56L114.27 269.56L113.00 271.98Z" fill="#fff" stroke="#ff48f6" stroke-width="0.5"/>
<text x="121.2" y="272.30" font-size="5.8">Li-like</text>
</svg>
</body></html>
